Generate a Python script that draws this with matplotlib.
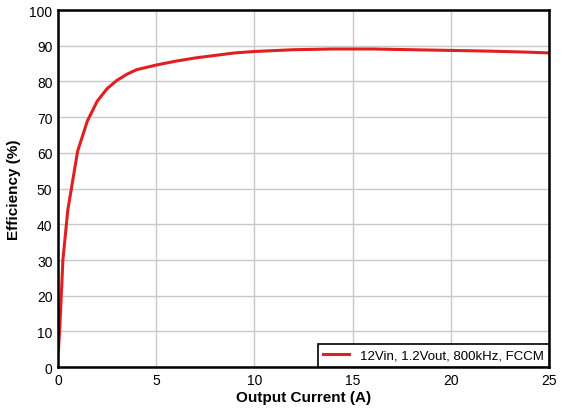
import matplotlib.pyplot as plt

current = [0.02, 0.1, 0.25, 0.5, 1.0, 1.5, 2.0, 2.5, 3.0, 3.5, 4.0, 5.0, 6.0, 7.0, 8.0,
           9.0, 10.0, 12.0, 14.0, 16.0, 18.0, 20.0, 22.0, 24.0, 25.0]
efficiency = [4.5, 12.0, 30.0, 44.0, 60.5, 69.0, 74.5, 78.0, 80.3, 82.0, 83.3, 84.6, 85.7,
              86.6, 87.3, 88.0, 88.4, 88.9, 89.1, 89.1, 88.9, 88.7, 88.5, 88.2, 88.0]

plt.rcParams['font.family'] = ['Liberation Sans', 'DejaVu Sans']
fig = plt.figure(figsize=(5.63, 4.10), dpi=100)
ax = fig.add_axes([0.103, 0.102, 0.872, 0.871])
ax.plot(current, efficiency, color='#e02020', lw=2.2, label='12Vin, 1.2Vout, 800kHz, FCCM')
ax.set_xlim(0, 25)
ax.set_ylim(0, 100)
ax.set_xticks(range(0, 26, 5))
ax.set_yticks(range(0, 101, 10))
ax.grid(True, color='#c8c8c8', lw=1)
ax.tick_params(labelsize=10, length=0, pad=4)
for s in ax.spines.values():
    s.set_linewidth(1.8)
ax.set_xlabel('Output Current (A)', fontsize=11, fontweight='bold', labelpad=2)
ax.set_ylabel('Efficiency (%)', fontsize=11, fontweight='bold', labelpad=6)
leg = ax.legend(loc='lower right', fontsize=9.5, fancybox=False, framealpha=1,
                edgecolor='black', borderaxespad=0, handlelength=2)
leg.get_frame().set_linewidth(1.2)
fig.savefig('out.png', dpi=100)
